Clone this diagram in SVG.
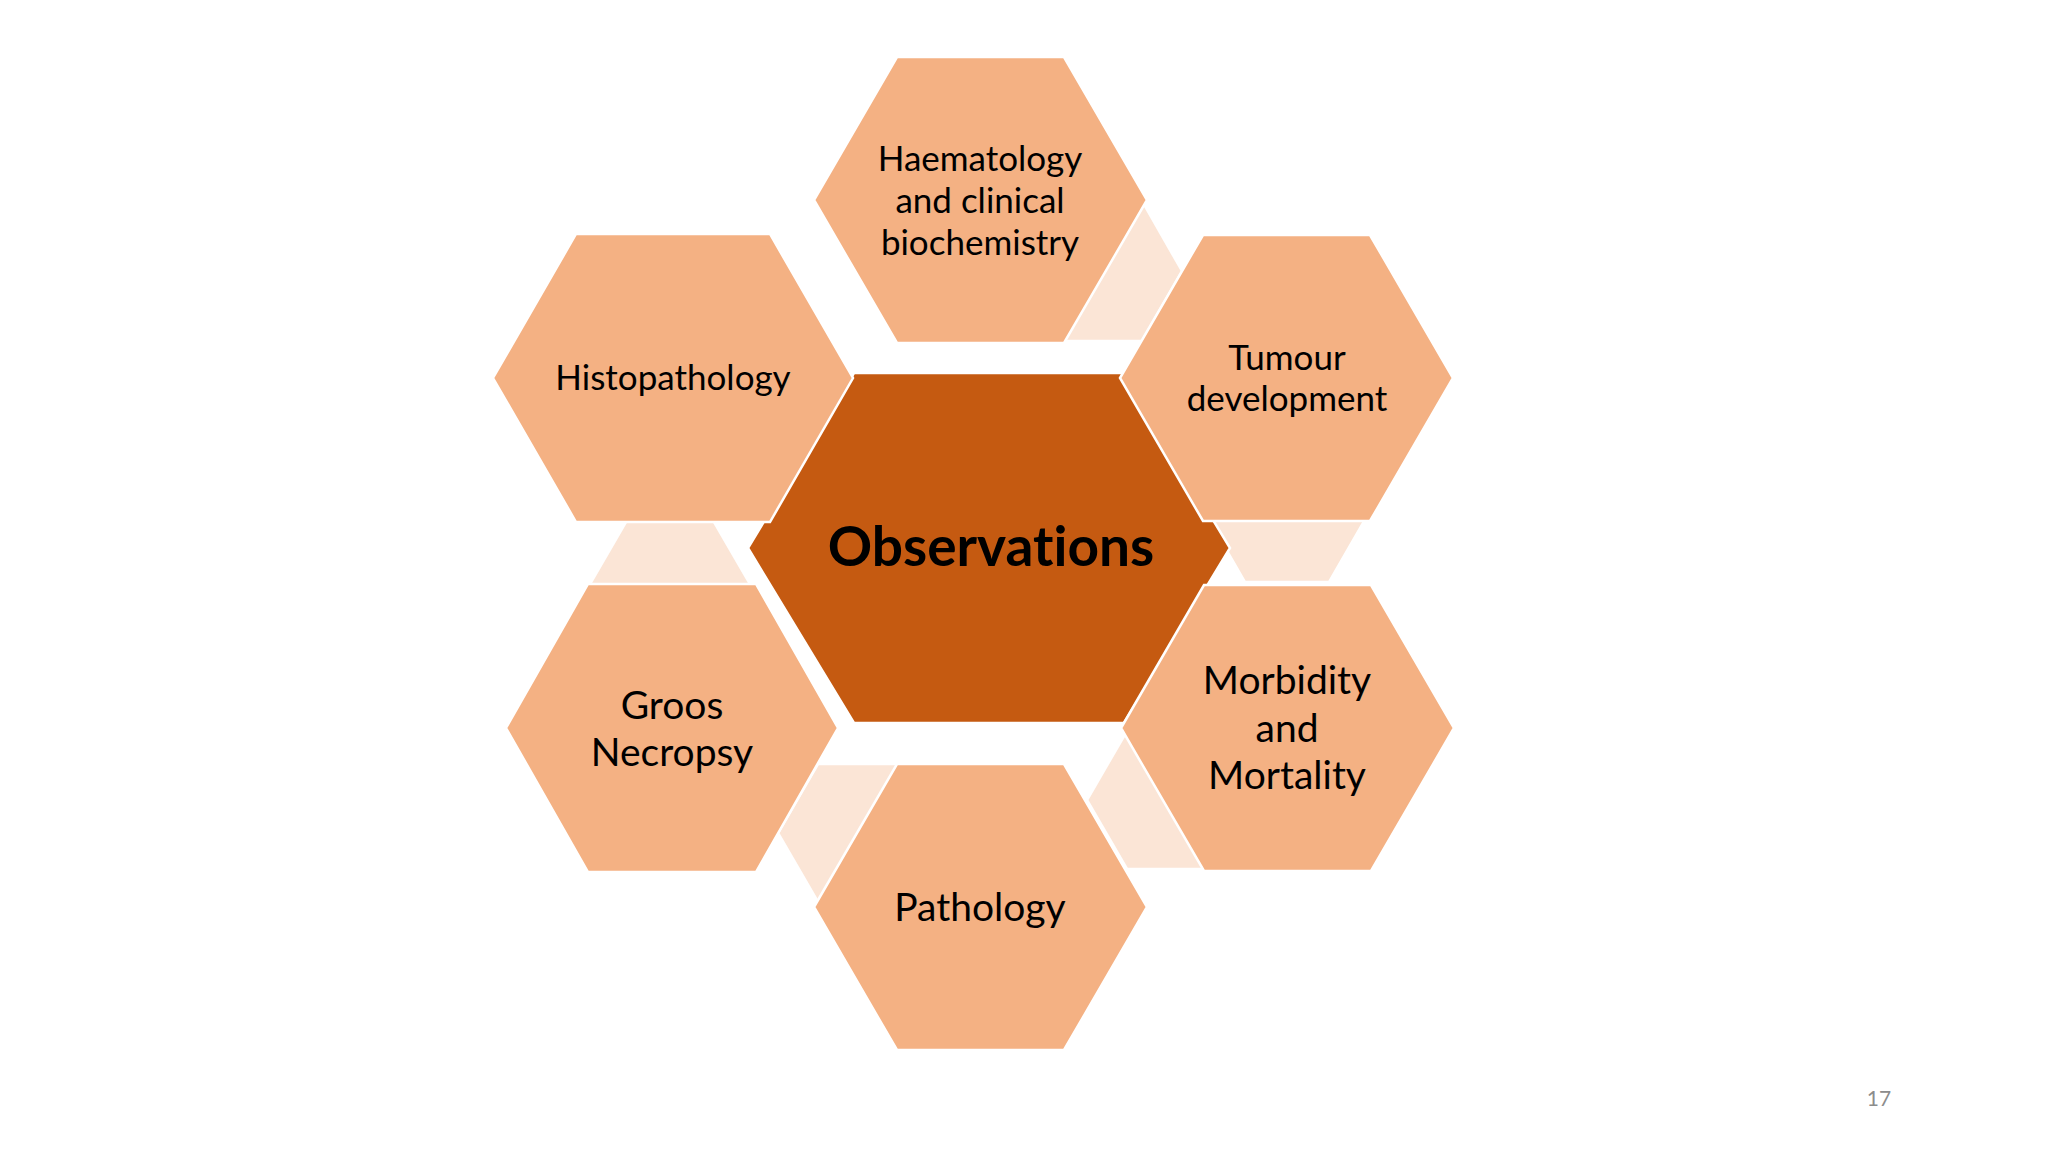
<svg xmlns="http://www.w3.org/2000/svg" width="2048" height="1152" viewBox="0 0 2048 1152">
  <style>
    .pale { fill: #FBE5D6; stroke: #FFFFFF; stroke-width: 2.5; }
    .hex { fill: #F4B183; stroke: #FFFFFF; stroke-width: 2.5; }
    .core { fill: #C55A11; stroke: #FFFFFF; stroke-width: 2.5; }
    .t { font-family: Lato, "Liberation Sans", sans-serif; fill: #000000; text-anchor: middle; font-variant-ligatures: none; }
    .s35 { font-size: 35px; }
    .s39 { font-size: 39px; }
    .big { font-size: 55px; font-weight: bold; }
    .num { font-family: Lato, "Liberation Sans", sans-serif; font-size: 21px; fill: #8C8C8C; text-anchor: middle; }
  </style>
  <rect x="0" y="0" width="2048" height="1152" fill="#FFFFFF"/>

  <g id="connectors">
    <polygon class="pale" points="1022,271 1062,201 1142,201 1182,271 1142,341 1062,341"/>
    <polygon class="pale" points="1203,509 1245,436 1329,436 1371,509 1329,582 1245,582"/>
    <polygon class="pale" points="1087,800 1127,731 1207,731 1247,800 1207,869 1127,869"/>
    <polygon class="pale" points="778,833 818,764 898,764 938,833 898,902 818,902"/>
    <polygon class="pale" points="590,584 630,515 710,515 750,584 710,653 630,653"/>
  </g>

  <g id="node-observations">
    <polygon class="core" points="748,548 854,373 1124,373 1230,548 1124,723 854,723"/>
    <text class="t big" x="991" y="566">Observations</text>
  </g>

  <g id="node-haematology">
    <polygon class="hex" points="814,200 897,57 1064,57 1147,200 1064,343 897,343"/>
    <text class="t s35" x="980" y="171">Haematology</text>
    <text class="t s35" x="980" y="213">and clinical</text>
    <text class="t s35" x="980" y="255">biochemistry</text>
  </g>

  <g id="node-tumour">
    <polygon class="hex" points="1120,378 1203,235 1370,235 1453,378 1370,521 1203,521"/>
    <text class="t s35" x="1287" y="370">Tumour</text>
    <text class="t s35" x="1287" y="411">development</text>
  </g>

  <g id="node-morbidity">
    <polygon class="hex" points="1121,728 1204,585 1371,585 1454,728 1371,871 1204,871"/>
    <text class="t s39" x="1287" y="694">Morbidity</text>
    <text class="t s39" x="1287" y="742">and</text>
    <text class="t s39" x="1287" y="789">Mortality</text>
  </g>

  <g id="node-pathology">
    <polygon class="hex" points="814,907 897,764 1064,764 1147,907 1064,1050 897,1050"/>
    <text class="t s39" x="980" y="921">Pathology</text>
  </g>

  <g id="node-groos">
    <polygon class="hex" points="506,728 588,584 756,584 838,728 756,872 588,872"/>
    <text class="t s39" x="672" y="719">Groos</text>
    <text class="t s39" x="672" y="766">Necropsy</text>
  </g>

  <g id="node-histopathology">
    <polygon class="hex" points="493,378 576,234 770,234 853,378 770,522 576,522"/>
    <text class="t s35" x="673" y="390">Histopathology</text>
  </g>

  <text class="num" x="1879" y="1106">17</text>
</svg>
